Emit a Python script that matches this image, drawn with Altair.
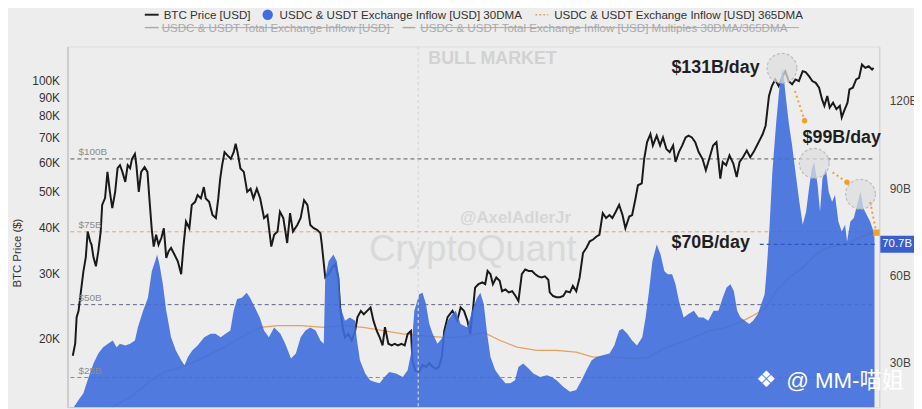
import altair as alt
import pandas as pd

W, H = 819, 364
FONT = "Liberation Sans"
BG = "#ededed"
BLUE = "#3f6ddb"
ORANGE = "#e8a060"

# ---------------- data ----------------
btc_dates = [
    "2020-12-06","2020-12-11","2020-12-14","2020-12-18","2020-12-23","2020-12-28","2021-01-02","2021-01-06",
    "2021-01-11","2021-01-14","2021-01-18","2021-01-23","2021-01-28","2021-02-02","2021-02-05","2021-02-11",
    "2021-02-16","2021-02-21","2021-02-26","2021-03-04","2021-03-09","2021-03-14","2021-03-19","2021-03-25",
    "2021-03-30","2021-04-04","2021-04-08","2021-04-14","2021-04-17","2021-04-22","2021-04-27","2021-05-04",
    "2021-05-10","2021-05-14","2021-05-19","2021-05-23","2021-05-28","2021-06-02","2021-06-08","2021-06-13",
    "2021-06-18","2021-06-23","2021-06-28","2021-07-05","2021-07-12","2021-07-19","2021-07-24","2021-07-29",
    "2021-08-05","2021-08-10","2021-08-17","2021-08-22","2021-08-29","2021-09-04","2021-09-08","2021-09-15",
    "2021-09-22","2021-09-29","2021-10-04","2021-10-08","2021-10-12","2021-10-17","2021-10-23","2021-10-30",
    "2021-11-05","2021-11-09","2021-11-13","2021-11-19","2021-11-26","2021-12-03","2021-12-10","2021-12-16",
    "2021-12-23","2021-12-30","2022-01-07","2022-01-14","2022-01-22","2022-01-28","2022-02-04","2022-02-09",
    "2022-02-16","2022-02-24","2022-03-02","2022-03-08","2022-03-17","2022-03-24","2022-03-31","2022-04-07",
    "2022-04-13","2022-04-20","2022-04-27","2022-05-04","2022-05-07","2022-05-14","2022-05-21","2022-05-28",
    "2022-06-04","2022-06-10","2022-06-14","2022-06-19","2022-06-24","2022-07-01","2022-07-08","2022-07-15",
    "2022-07-20","2022-07-27","2022-08-02","2022-08-09","2022-08-16","2022-08-22","2022-08-29","2022-09-04",
    "2022-09-10","2022-09-15","2022-09-22","2022-09-29","2022-10-05","2022-10-12","2022-10-19","2022-10-26",
    "2022-11-01","2022-11-08","2022-11-11","2022-11-17","2022-11-25","2022-12-02","2022-12-09","2022-12-16",
    "2022-12-23","2022-12-30","2023-01-05","2023-01-11","2023-01-16","2023-01-23","2023-02-02","2023-02-06",
    "2023-02-12","2023-02-19","2023-02-26","2023-03-05","2023-03-11","2023-03-17","2023-03-21","2023-03-28",
    "2023-04-05","2023-04-11","2023-04-16","2023-04-22","2023-04-27","2023-05-04","2023-05-11","2023-05-16",
    "2023-05-23","2023-05-30","2023-06-06","2023-06-13","2023-06-19","2023-06-26","2023-07-03","2023-07-10",
    "2023-07-17","2023-07-24","2023-07-30","2023-08-06","2023-08-13","2023-08-20","2023-08-23","2023-08-30",
    "2023-09-06","2023-09-13","2023-09-20","2023-09-26","2023-10-04","2023-10-10","2023-10-17","2023-10-24",
    "2023-10-31","2023-11-07","2023-11-14","2023-11-21","2023-11-28","2023-12-04","2023-12-11","2023-12-18",
    "2023-12-25","2023-12-31","2024-01-07","2024-01-14","2024-01-21","2024-01-27","2024-02-04","2024-02-10",
    "2024-02-17","2024-02-22","2024-03-01","2024-03-06","2024-03-12","2024-03-19","2024-03-24","2024-04-01",
    "2024-04-08","2024-04-14","2024-04-21","2024-04-28","2024-05-05","2024-05-10","2024-05-17","2024-05-24",
    "2024-05-31","2024-06-06","2024-06-13","2024-06-20","2024-06-27","2024-07-05","2024-07-12","2024-07-19",
    "2024-07-27","2024-08-03","2024-08-06","2024-08-11","2024-08-16","2024-08-23","2024-08-30","2024-09-07",
    "2024-09-14","2024-09-20","2024-09-27","2024-10-05","2024-10-12","2024-10-19","2024-10-26","2024-11-02",
    "2024-11-07","2024-11-13","2024-11-20","2024-11-26","2024-12-03","2024-12-10","2024-12-17","2024-12-24",
    "2024-12-31","2025-01-07","2025-01-14","2025-01-21","2025-01-29","2025-02-04","2025-02-11","2025-02-18",
    "2025-02-25","2025-03-04","2025-03-10","2025-03-15","2025-03-21","2025-03-26","2025-04-02","2025-04-09",
    "2025-04-16","2025-04-20","2025-04-25","2025-05-02","2025-05-06","2025-05-13","2025-05-20","2025-05-26",
    "2025-06-01","2025-06-08","2025-06-15","2025-06-22","2025-06-25",
]
btc_price_k = [
    18.0,19.4,22.9,23.8,26.9,30.4,33.2,39.0,
    36.7,35.9,33.2,31.4,34.5,39.0,46.0,48.0,
    56.5,49.9,45.1,49.9,57.8,58.9,56.5,53.1,
    58.9,57.8,61.3,63.2,58.9,49.9,56.5,58.2,
    56.5,47.9,39.4,35.5,38.2,35.9,37.5,39.8,
    33.1,34.5,35.2,33.8,32.4,29.9,35.9,41.5,
    39.8,46.0,46.9,48.9,47.9,51.4,47.9,46.9,
    43.2,42.4,47.9,54.2,58.9,63.9,62.6,61.3,
    63.9,67.3,63.9,57.7,56.5,49.9,50.9,47.9,
    50.9,47.9,42.4,43.2,35.5,38.2,39.0,44.1,
    42.4,36.3,43.7,39.0,40.6,42.4,47.4,46.0,
    40.6,39.8,39.4,38.6,35.9,29.3,29.9,31.1,
    31.8,29.3,24.3,21.5,20.2,20.6,19.8,21.0,
    22.9,23.8,23.3,23.8,24.3,22.4,21.0,20.2,
    19.2,21.5,19.4,19.2,19.4,19.2,19.4,19.2,
    20.6,21.0,17.5,16.4,16.3,17.0,16.8,17.2,
    16.8,16.6,16.8,17.9,21.0,22.9,23.8,23.3,
    22.4,24.3,23.8,22.4,20.6,24.3,27.5,28.1,
    28.4,28.1,30.5,29.9,28.1,29.3,28.7,26.9,
    27.2,26.7,26.9,26.1,25.3,29.9,30.8,30.5,
    30.5,29.9,29.5,29.3,29.5,28.9,26.7,26.1,
    25.9,25.9,26.1,26.9,26.7,27.8,26.9,29.3,
    34.1,35.2,36.7,37.1,37.8,38.2,43.7,42.4,
    43.2,42.4,44.1,46.0,43.2,39.8,42.8,43.2,
    47.9,52.0,52.6,61.3,68.0,71.5,66.6,70.8,
    66.6,70.0,65.2,63.9,66.6,60.1,63.9,66.6,
    70.0,70.8,70.0,68.0,63.9,61.3,57.1,61.3,
    66.6,68.0,62.6,54.2,60.1,58.9,62.6,59.5,
    54.7,60.1,61.9,64.5,61.9,63.9,66.6,69.4,
    71.5,75.3,90.6,96.4,100.4,96.4,101.4,105.7,
    99.4,97.4,100.4,99.4,105.7,105.1,102.5,99.4,
    98.3,95.4,88.8,85.2,90.6,84.3,86.9,83.5,
    85.2,79.3,82.6,86.9,94.4,95.4,100.4,101.4,
    110.2,107.9,109.0,106.8,107.9,
]

inflow_dates = [
    "2020-11-29","2020-12-08","2020-12-18","2020-12-28","2021-01-08","2021-01-18","2021-01-28","2021-02-07",
    "2021-02-17","2021-02-27","2021-03-07","2021-03-14","2021-03-25","2021-04-04","2021-04-14","2021-04-20",
    "2021-05-01","2021-05-11","2021-05-19","2021-05-26","2021-05-30","2021-06-04","2021-06-11","2021-06-18",
    "2021-06-28","2021-07-08","2021-07-19","2021-07-26","2021-08-02","2021-08-11","2021-08-22","2021-09-05",
    "2021-09-18","2021-09-28","2021-10-09","2021-10-19","2021-10-29","2021-11-05","2021-11-12","2021-11-22",
    "2021-12-02","2021-12-09","2021-12-19","2021-12-29","2022-01-07","2022-01-17","2022-01-28","2022-02-10",
    "2022-02-20","2022-03-04","2022-03-14","2022-03-24","2022-04-03","2022-04-13","2022-04-24","2022-05-04",
    "2022-05-11","2022-05-14","2022-05-21","2022-05-31","2022-06-07","2022-06-12","2022-06-15","2022-06-24",
    "2022-07-04","2022-07-15","2022-07-18","2022-07-25","2022-08-05","2022-08-15","2022-08-25","2022-09-04",
    "2022-09-14","2022-09-24","2022-10-08","2022-10-22","2022-11-01","2022-11-08","2022-11-15","2022-11-25",
    "2022-12-02","2022-12-09","2022-12-16","2022-12-23","2023-01-02","2023-01-13","2023-01-23","2023-02-02",
    "2023-02-09","2023-02-19","2023-03-05","2023-03-15","2023-03-25","2023-04-01","2023-04-08","2023-04-15",
    "2023-04-22","2023-05-02","2023-05-12","2023-05-23","2023-06-02","2023-06-12","2023-06-19","2023-06-29",
    "2023-07-10","2023-07-20","2023-08-03","2023-08-17","2023-08-27","2023-09-06","2023-09-20","2023-10-04",
    "2023-10-17","2023-10-28","2023-11-07","2023-11-18","2023-11-28","2023-12-11","2023-12-25","2024-01-04",
    "2024-01-14","2024-01-21","2024-01-31","2024-02-10","2024-02-20","2024-03-02","2024-03-09","2024-03-16",
    "2024-03-23","2024-04-01","2024-04-09","2024-04-17","2024-04-24","2024-05-03","2024-05-10","2024-05-17",
    "2024-05-27","2024-06-06","2024-06-17","2024-06-27","2024-07-07","2024-07-17","2024-07-28","2024-08-07",
    "2024-08-16","2024-08-24","2024-09-01","2024-09-08","2024-09-15","2024-09-22","2024-10-01","2024-10-10",
    "2024-10-18","2024-10-28","2024-11-04","2024-11-11","2024-11-15","2024-11-21","2024-11-27","2024-12-05",
    "2024-12-12","2024-12-17","2024-12-19","2024-12-24","2024-12-31","2025-01-07","2025-01-14","2025-01-22",
    "2025-01-29","2025-02-05","2025-02-12","2025-02-17","2025-02-22","2025-03-01","2025-03-06","2025-03-11",
    "2025-03-18","2025-03-24","2025-03-31","2025-04-06","2025-04-13","2025-04-20","2025-04-27","2025-05-01",
    "2025-05-08","2025-05-15","2025-05-22","2025-05-29","2025-06-04","2025-06-11","2025-06-18","2025-06-25",
    "2025-06-27",
]
inflow_30dma_b = [
    14.8,14.8,17.3,19.6,25.2,29.8,33.2,35.4,
    36.6,37.7,35.4,36.6,36.0,36.6,37.7,42.2,
    47.9,52.4,61.5,64.9,67.2,63.8,57.0,47.9,
    38.8,34.3,30.9,29.2,32.0,34.3,36.0,38.8,
    40.0,40.0,38.8,40.0,41.1,47.9,51.9,52.4,
    54.1,52.4,49.0,45.6,41.1,38.8,42.2,40.0,
    36.6,31.5,33.2,38.8,41.1,42.2,41.1,37.7,
    36.6,59.3,64.9,67.2,64.9,59.3,49.0,44.5,
    45.6,44.5,38.8,30.9,26.4,24.1,23.5,23.0,
    25.2,26.9,26.4,25.2,27.5,33.2,47.9,53.6,
    54.1,50.2,43.4,40.0,36.6,38.8,44.5,46.8,
    47.9,43.4,42.2,47.9,52.4,54.1,50.2,40.0,
    32.0,27.5,25.2,23.0,23.0,24.1,28.6,29.8,
    28.1,26.4,25.2,25.8,25.2,24.1,21.8,20.1,
    20.7,24.1,27.5,30.9,32.0,32.6,33.2,36.0,
    41.1,41.7,40.0,37.7,36.0,38.8,45.6,54.7,
    64.9,70.6,67.2,61.5,60.4,60.4,57.0,51.3,
    45.6,46.8,47.9,45.6,45.6,44.5,47.9,47.9,
    52.4,55.9,57.0,54.7,47.9,45.6,44.5,43.4,
    44.5,46.8,50.2,53.6,61.5,76.3,95.5,112.5,
    125.0,129.5,131.0,122.7,112.5,104.6,95.5,85.3,
    77.4,81.9,91.0,96.7,98.9,91.0,81.9,93.3,
    96.7,88.7,85.3,87.6,78.5,75.1,77.4,71.7,
    78.5,79.7,84.2,88.7,83.1,80.8,78.5,75.1,
    72.9,
]

dma365_dates = [
    "2021-02-25","2021-04-06","2021-05-18","2021-06-14","2021-07-19","2021-08-22","2021-09-26","2021-10-29",
    "2021-12-03","2021-12-31","2022-02-04","2022-03-24","2022-05-12","2022-06-21","2022-08-01","2022-09-11",
    "2022-10-22","2022-12-02","2023-01-13","2023-02-09","2023-03-11","2023-04-08","2023-05-12","2023-06-16",
    "2023-07-27","2023-09-06","2023-10-17","2023-11-21","2024-01-07","2024-02-17","2024-03-16","2024-04-09",
    "2024-05-13","2024-06-17","2024-07-21","2024-08-24","2024-09-28","2024-10-24","2024-11-14","2024-12-05",
    "2025-01-01","2025-01-29","2025-02-18","2025-03-11","2025-04-01","2025-04-28","2025-05-26","2025-06-22",
    "2025-06-29",
]
dma365_b = [
    14.8,18.4,24.1,26.9,28.6,30.9,33.7,36.6,
    40.0,42.2,42.8,42.8,42.2,42.8,42.2,41.1,
    40.0,39.4,38.8,38.8,39.4,40.5,37.7,35.4,
    34.3,34.3,33.7,32.0,32.0,31.5,32.0,34.3,
    36.6,38.8,41.1,42.2,44.5,46.8,49.0,54.7,
    59.3,62.7,66.1,68.9,70.0,70.6,72.9,74.6,
    74.6,
]

ref_levels = [100, 75, 50, 25]
ref_labels = ["$100B", "$75B", "$50B", "$25B"]
ref_colors = ["#5a5a5a", "#e3a27c", "#5d6282", "#8a8a8a"]

left_ticks_k = [20, 30, 40, 50, 60, 70, 80, 90, 100]
right_ticks_b = [30, 60, 90, 120]

peak_dates = ["2024-12-17", "2025-02-22", "2025-05-29"]
peak_values = [131.1, 98.5, 87.9]

callout_texts = ["$131B/day", "$99B/day", "$70B/day"]
callout_dates = ["2024-08-01", "2025-04-20", "2024-07-22"]
callout_values = [131.1, 107.0, 71.3]

arrow_ids = [1, 1, 2, 2, 3, 3]
arrow_dates = ["2025-01-13", "2025-02-02", "2025-04-01", "2025-05-01", "2025-06-18", "2025-07-01"]
arrow_values = [123.3, 113.1, 95.4, 92.0, 85.2, 74.7]

current_level_b = 70.7
level_line_dates = ["2024-11-01", "2025-06-28"]
bull_market_date = "2022-11-23"

# ---------------- scales ----------------
xs = alt.Scale(domain=[alt.DateTime(year=2020, month=11, date=25),
                       alt.DateTime(year=2025, month=7, date=7)])
price_scale = alt.Scale(type="log", domain=[13.07, 123.3], nice=False)
inflow_scale = alt.Scale(domain=[14.8, 138.6], nice=False, zero=False)

def X(field="date"):
    return alt.X(f"{field}:T", scale=xs, axis=None)

def YI(field="v"):
    return alt.Y(f"{field}:Q", scale=inflow_scale, axis=None)

one = pd.DataFrame({"k": [0]})

def ptext(text, x, y, size, color, weight="normal", align="left", font=FONT, opacity=1.0):
    return alt.Chart(one).mark_text(
        text=text, fontSize=size, color=color, fontWeight=weight, align=align,
        baseline="middle", font=font, opacity=opacity
    ).encode(x=alt.value(x), y=alt.value(y))

def prule(x1, x2, y, color, width=1.0, dash=None):
    kw = dict(color=color, strokeWidth=width)
    if dash:
        kw["strokeDash"] = dash
    return alt.Chart(one).mark_rule(**kw).encode(
        x=alt.value(x1), x2=alt.value(x2), y=alt.value(y))

layers = []

# watermarks
layers.append(ptext("CryptoQuant", 409, 205, 37, "#d9d9d9", align="center"))
layers.append(ptext("@AxelAdlerJr", 452, 173, 17, "#d6d6d6", weight="bold", align="center"))
layers.append(ptext("BULL MARKET", 364, 13, 18, "#d2d2d2", weight="bold"))

# reference lines (labels are drawn later, above the area)
ref_df = pd.DataFrame({"v": ref_levels, "lab": ref_labels})
for lvl, col in zip(ref_levels, ref_colors):
    d = pd.DataFrame({"v": [lvl]})
    layers.append(alt.Chart(d).mark_rule(color=col, strokeWidth=1, strokeDash=[4, 3]).encode(
        y=YI(), x=alt.value(3), x2=alt.value(W - 4)))

# 365DMA line
dma_df = pd.DataFrame({"date": dma365_dates, "v": dma365_b})
layers.append(alt.Chart(dma_df).mark_line(color=ORANGE, strokeWidth=1.3, clip=True).encode(
    x=X(), y=YI()))

# BTC price line (left log axis)
btc_df = pd.DataFrame({"date": btc_dates, "p": btc_price_k})
left_axis = alt.Axis(
    orient="left", values=left_ticks_k, labelExpr="datum.value + 'K'", title="BTC Price ($)",
    grid=False, ticks=False, domainColor="#b5b5b5", domainWidth=1, labelPadding=8,
    labelFontSize=12, labelColor="#333333", labelFont=FONT, titleFont=FONT,
    titleFontSize=11.5, titleFontWeight="normal", titleColor="#333333",
    titleAngle=270, titleX=-50, titleY=208, titleAlign="center", titleBaseline="middle")
layers.append(alt.Chart(btc_df).mark_line(color="#1a1a1a", strokeWidth=2, clip=True).encode(
    x=X(), y=alt.Y("p:Q", scale=price_scale, axis=left_axis)))

# 30DMA inflow area (right axis)
right_axis = alt.Axis(
    orient="right", values=right_ticks_b, labelExpr="datum.value + 'B'", title=None,
    grid=False, ticks=False, domainColor="#cfcfcf", labelPadding=10, labelFontSize=12,
    labelColor="#444444", labelFont=FONT)
inflow_df = pd.DataFrame({"date": inflow_dates, "v": inflow_30dma_b})
layers.append(alt.Chart(inflow_df).mark_area(color=BLUE, opacity=0.9, clip=True).encode(
    x=X(), y=alt.Y("v:Q", scale=inflow_scale, axis=right_axis), y2=alt.value(H)))

# reference line labels
layers.append(alt.Chart(ref_df).mark_text(align="left", baseline="middle", dy=-7, fontSize=10,
                                          color="#8c8c8c", font=FONT).encode(
    y=YI(), x=alt.value(11), text="lab:N"))

# vertical "bull market" divider
layers.append(alt.Chart(pd.DataFrame({"date": [bull_market_date]})).mark_rule(
    color="#d6d6d6", strokeWidth=1.2, strokeDash=[3, 3]).encode(
    x=X(), y=alt.value(0), y2=alt.value(H)))

# current level dashed line
lvl_df = pd.DataFrame({"date": [level_line_dates[0]], "date2": [level_line_dates[1]],
                       "v": [current_level_b]})
layers.append(alt.Chart(lvl_df).mark_rule(color="#2f55c8", strokeWidth=1.2, strokeDash=[4, 3]).encode(
    x=X(), x2="date2:T", y=YI()))

# peak circles
pk_df = pd.DataFrame({"date": peak_dates, "v": peak_values})
layers.append(alt.Chart(pk_df).mark_point(
    shape="circle", size=900, filled=True, fill="#dedede", fillOpacity=0.75,
    stroke="#bdbdbd", strokeWidth=1.2, strokeDash=[3, 2]).encode(x=X(), y=YI()))

# arrows
ar_df = pd.DataFrame({"date": arrow_dates, "v": arrow_values, "g": arrow_ids})
layers.append(alt.Chart(ar_df).mark_line(color="#f0a030", strokeWidth=2, strokeDash=[2, 3]).encode(
    x=X(), y=YI(), detail="g:N"))
layers.append(alt.Chart(ar_df.iloc[[1, 3]]).mark_point(shape="circle", filled=True, color="#f0a030",
                                                       size=30, opacity=1).encode(x=X(), y=YI()))
layers.append(alt.Chart(ar_df.iloc[[5]]).mark_point(shape="square", filled=True, color="#f0a030",
                                                    size=40, opacity=1).encode(x=X(), y=YI()))

# callout texts
co_df = pd.DataFrame({"date": callout_dates, "v": callout_values, "t": callout_texts})
layers.append(alt.Chart(co_df).mark_text(fontSize=18, fontWeight="bold", color="#1f1f1f",
                                         font=FONT, align="center", baseline="middle").encode(
    x=X(), y=YI(), text="t:N"))

# badge on right axis
badge_df = pd.DataFrame({"v1": [current_level_b + 2.9], "v2": [current_level_b - 2.9],
                         "v": [current_level_b], "t": [f"{current_level_b}B"]})
layers.append(alt.Chart(badge_df).mark_rect(color="#3a5fcd").encode(
    x=alt.value(W + 1), x2=alt.value(W + 35), y=YI("v1"), y2="v2:Q"))
layers.append(alt.Chart(badge_df).mark_text(color="white", fontSize=11.5, font=FONT,
                                            align="center", baseline="middle").encode(
    x=alt.value(W + 18), y=YI(), text="t:N"))

# author mark
layers.append(ptext("\u2756", 705, 337, 23, "white", align="center", font="DejaVu Sans"))
layers.append(ptext("@ MM-喵姐", 725, 338, 22.5, "white", font="Liberation Sans, Noto Sans CJK SC"))

# legend
R1, R2 = -32, -19
layers.append(prule(78, 92, R1, "#222222", 2))
layers.append(ptext("BTC Price [USD]", 97, R1, 11.7, "#333333"))
layers.append(alt.Chart(one).mark_point(shape="circle", filled=True, color=BLUE, size=110, opacity=1).encode(
    x=alt.value(202), y=alt.value(R1)))
layers.append(ptext("USDC & USDT Exchange Inflow [USD] 30DMA", 214, R1, 11.7, "#333333"))
layers.append(prule(472, 485, R1, ORANGE, 1.5, [2, 2]))
layers.append(ptext("USDC & USDT Exchange Inflow [USD] 365DMA", 491, R1, 11.7, "#333333"))
layers.append(prule(78, 92, R2, "#aaaaaa", 1.5))
layers.append(ptext("USDC & USDT Total Exchange Inflow [USD]", 95, R2, 11.7, "#aaaaaa"))
layers.append(prule(95, 329, R2, "#aaaaaa", 1))
layers.append(prule(338, 351, R2, "#aaaaaa", 1.5))
layers.append(ptext("USDC & USDT Total Exchange Inflow [USD] Multiples 30DMA/365DMA", 356, R2, 11.7, "#aaaaaa"))
layers.append(prule(356, 738, R2, "#aaaaaa", 1))

chart = alt.layer(*layers).resolve_scale(y="independent").properties(
    width=W, height=H,
    autosize=alt.AutoSizeParams(type="none"),
    padding={"left": 60, "top": 37, "right": 35, "bottom": 0},
    background=BG,
).configure_view(strokeWidth=0).configure(font=FONT)

chart.save("out.html", embed_options={"renderer": "svg", "actions": False})
